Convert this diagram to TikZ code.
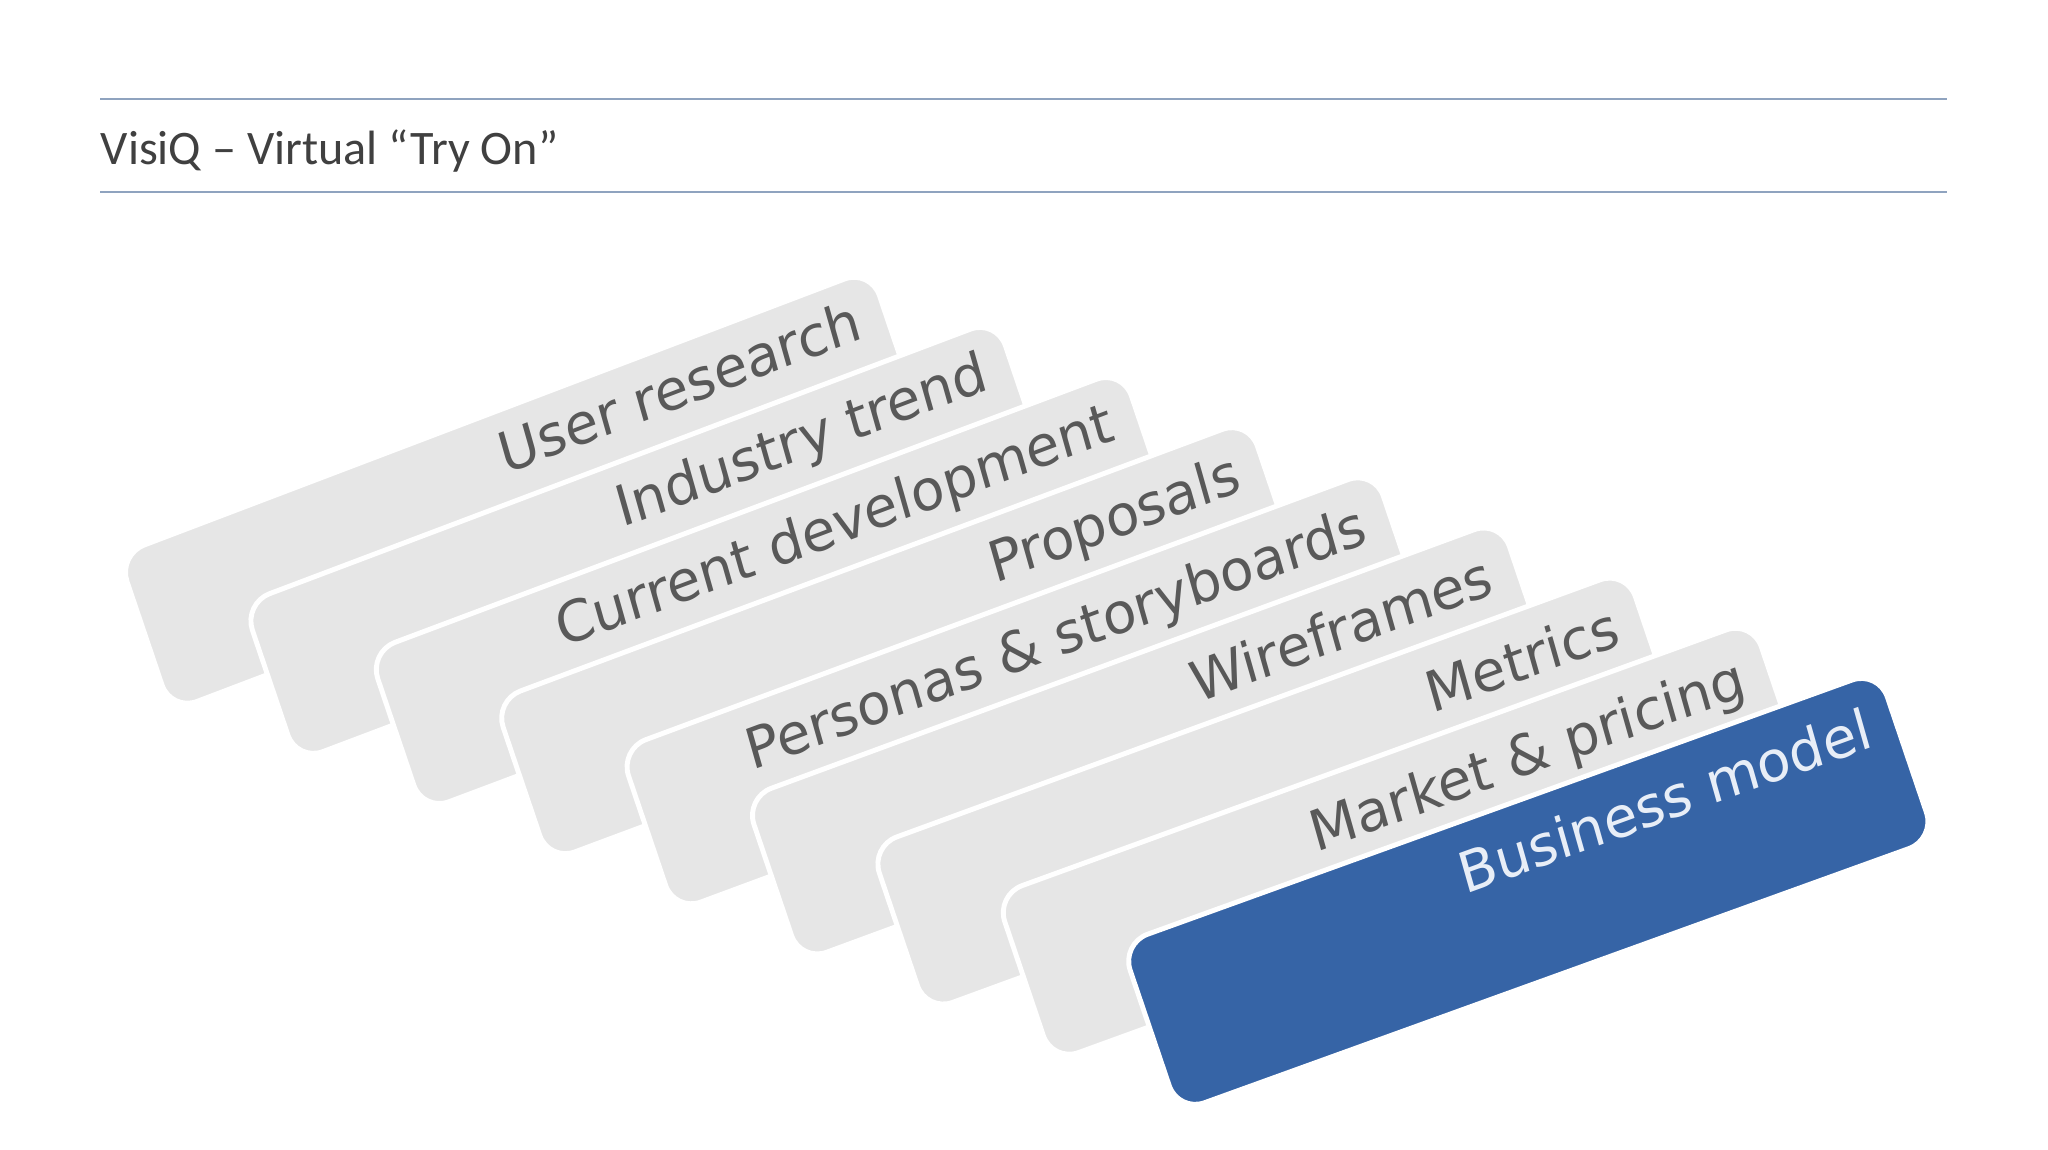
\documentclass[tikz,border=0pt]{standalone}
\usepackage{fontspec}
\setmainfont{DejaVu Sans}
\newfontfamily\titlefont{Carlito}
\usetikzlibrary{positioning}
\definecolor{visiblue}{RGB}{54,100,166}
\definecolor{visigray}{RGB}{230,230,230}
\definecolor{visitext}{RGB}{89,89,89}
\definecolor{visilight}{RGB}{232,238,247}
\definecolor{visiline}{RGB}{143,163,191}
\definecolor{visititle}{RGB}{64,64,64}
\newcommand{\stackcard}[4]{% index, label, fill, text colour
  \begin{scope}[shift={({1.18+1.254*#1},{5.95-0.486*#1})},
      rotate={20.8-0.12*#1},xslant={tan(2.1-0.12*#1)}]
    \filldraw[fill=#3,draw=white,line width=1.4pt,rounded corners=.28cm]
      (0,0) rectangle (8.05,{-1.65-0.016*#1});
    \node[anchor=base east,inner sep=0,transform shape,xslant=.05,text=#4,
      font=\fontsize{15.8}{19}\selectfont] (card#1) at (7.78,{-0.62-0.01*#1}) {#2};
  \end{scope}%
}

\begin{document}
\begin{tikzpicture}
  \useasboundingbox (0,0) rectangle (20.48,11.5);
  \draw[visiline,line width=.7pt] (1,10.51) -- (19.47,10.51);
  \draw[visiline,line width=.7pt] (1,9.58) -- (19.47,9.58);
  \node[anchor=base west,inner sep=0,text=visititle,
    font=\titlefont\fontsize{13.7}{17}\selectfont] (title) at (1,9.85) {VisiQ – Virtual “Try On”};
  \foreach \i/\lbl in {0/User research,1/Industry trend,2/Current development,
      3/Proposals,4/Personas \& storyboards,5/Wireframes,6/Metrics,7/Market \& pricing}
    {\stackcard{\i}{\lbl}{visigray}{visitext}}
  \stackcard{8}{Business model}{visiblue}{visilight}
\end{tikzpicture}
\end{document}
